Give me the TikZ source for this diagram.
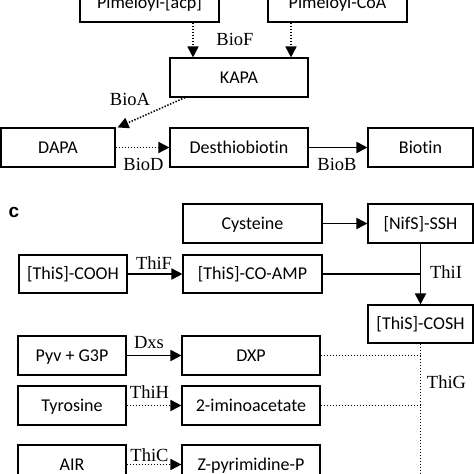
\documentclass[tikz,border=0pt]{standalone}
\usepackage{fontspec}
\setmainfont[Ligatures={NoCommon}]{Carlito}
\newfontfamily\labfont{Liberation Serif}
\newfontfamily\headfont{Liberation Sans}
\usetikzlibrary{arrows.meta}
\begin{document}
\begin{tikzpicture}[x=1pt,y=-1pt,
  box/.style={draw, line width=1.1pt, inner sep=0pt, minimum height=39pt,
    text height=11.6pt, text depth=0pt, font=\fontsize{18}{18}\selectfont},
  lab/.style={inner sep=0pt, text height=12.2pt, text depth=0pt,
    font=\labfont\fontsize{18.5}{18.5}\selectfont},
  solidarr/.style={line width=1.8pt, -{Triangle[length=11pt,width=11pt]}},
  dotarr/.style={line width=1.6pt, dash pattern=on 1.4pt off 1.6pt,
    -{Triangle[length=11pt,width=11pt]}},
  dotline/.style={line width=1.6pt, dash pattern=on 1.4pt off 1.6pt},
  plainline/.style={line width=1.1pt}]
\useasboundingbox (0,0) rectangle (474,474);
\clip (0,0) rectangle (474,474);
\fill[white] (0,0) rectangle (474,474);
% --- biotin pathway
\node[box, minimum width=139pt] (pacp) at (149.5,2.5) {Pimeloyl-[acp]};
\node[box, minimum width=139pt] (pcoa) at (337.5,2.5) {Pimeloyl-CoA};
\node[box, minimum width=138pt] (kapa) at (239,77.5) {KAPA};
\node[box, minimum width=114pt] (dapa) at (58,147.5) {DAPA};
\node[box, minimum width=138pt] (desthio) at (239,147.5) {Desthiobiotin};
\node[box, minimum width=105pt] (biotin) at (420.5,147.5) {Biotin};
\draw[dotarr] ([xshift=43.5pt]pacp.south) -- ([xshift=-46pt]kapa.north);
\draw[dotarr] ([xshift=-46.5pt]pcoa.south) -- ([xshift=52pt]kapa.north);
\draw[dotarr] ([xshift=-54pt]kapa.south) -- ([xshift=2pt]dapa.north east);
\draw[dotarr] (dapa.east) -- (desthio.west);
\draw[solidarr] (desthio.east) -- (biotin.west);
\node[lab] (biof) at (235,39.5) {BioF};
\node[lab] (bioa) at (130,99.3) {BioA};
\node[lab] (biod) at (143.5,164) {BioD};
\node[lab] (biob) at (337,164) {BioB};
% --- thiamine pathway
\node[inner sep=0pt, font=\headfont\bfseries\fontsize{19}{19}\selectfont] (c) at (14,212) {c};
\node[box, minimum width=139pt] (cys) at (252.5,223.5) {Cysteine};
\node[box, minimum width=105pt] (nifs) at (420.5,223.5) {[NifS]-SSH};
\node[box, minimum width=108pt, minimum height=38pt] (cooh) at (73,274) {[ThiS]-COOH};
\node[box, minimum width=139pt, minimum height=38pt] (coamp) at (252.5,274) {[ThiS]-CO-AMP};
\node[box, minimum width=105pt, minimum height=38pt] (cosh) at (420.5,324) {[ThiS]-COSH};
\node[box, minimum width=108pt] (pyv) at (72,355.5) {Pyv + G3P};
\node[box, minimum width=138pt] (dxp) at (251,355.5) {DXP};
\node[box, minimum width=108pt] (tyr) at (72,405.5) {Tyrosine};
\node[box, minimum width=138pt] (imino) at (251,405.5) {2-iminoacetate};
\node[box, minimum width=108pt] (air) at (72,464.5) {AIR};
\node[box, minimum width=138pt] (zpyr) at (251,464.5) {Z-pyrimidine-P};
\coordinate (vend) at (420.5,490);
\draw[solidarr] (cys.east) -- (nifs.west);
\draw[solidarr] (cooh.east) -- (coamp.west);
\draw[plainline] (coamp.east) -- (coamp.east -| nifs.south);
\draw[solidarr] (nifs.south) -- (cosh.north);
\draw[solidarr] (pyv.east) -- (dxp.west);
\draw[dotarr] (tyr.east) -- (imino.west);
\draw[dotarr] (air.east) -- (zpyr.west);
\draw[dotline] (cosh.south) -- (vend);
\draw[dotline] (dxp.east) -- (dxp.east -| cosh.south);
\draw[dotline] (imino.east) -- (imino.east -| cosh.south);
\node[lab] (thif) at (154,263.3) {ThiF};
\node[lab] (thii) at (446,272.7) {ThiI};
\node[lab] (dxs) at (149,342.5) {Dxs};
\node[lab] (thih) at (149.5,392.7) {ThiH};
\node[lab] (thig) at (446.5,382.7) {ThiG};
\node[lab] (thic) at (149.5,455) {ThiC};
\end{tikzpicture}
\end{document}
